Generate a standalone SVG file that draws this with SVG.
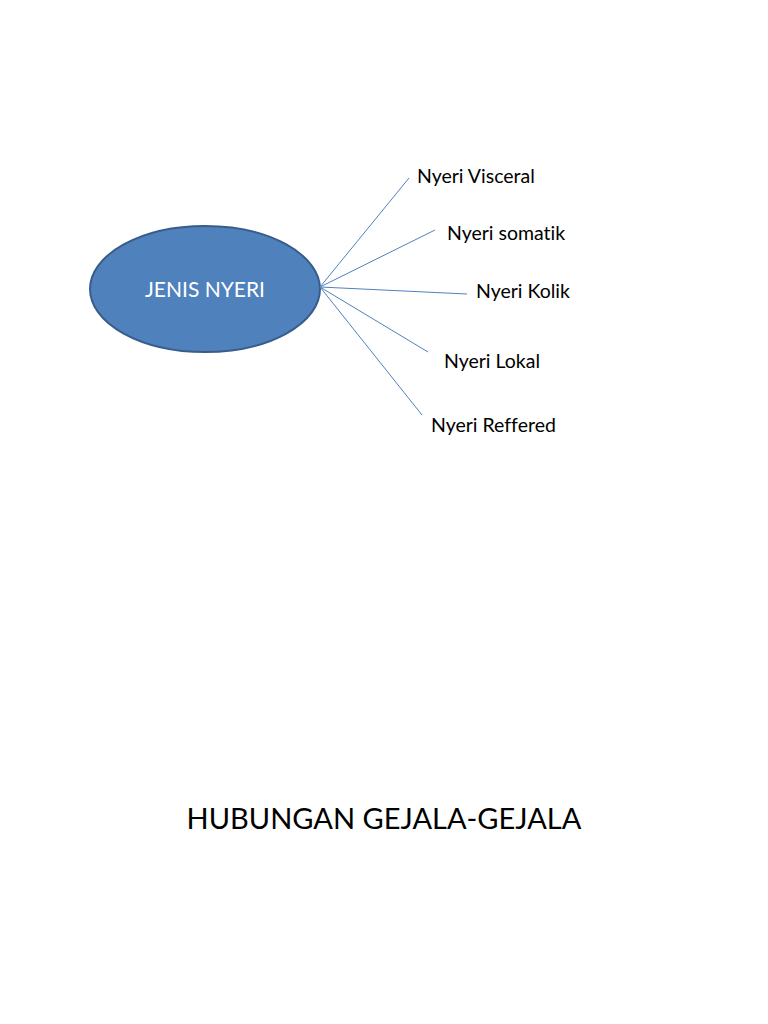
<svg xmlns="http://www.w3.org/2000/svg" width="768" height="1024" viewBox="0 0 768 1024">
<style>
text{font-family:Lato,"Open Sans","Liberation Sans",sans-serif;font-variant-ligatures:none}
.lbl{font-size:19.5px;fill:#000}
.conn line{stroke:#4F81BD;stroke-width:1}
</style>
<rect width="768" height="1024" fill="#fff"/>
<g id="jenis-nyeri">
<ellipse cx="205" cy="289" rx="115" ry="63" fill="#4F81BD" stroke="#385D8A" stroke-width="2"/>
<text x="205" y="297" text-anchor="middle" font-size="21" fill="#fff">JENIS NYERI</text>
</g>
<g id="connectors" class="conn">
<line x1="320" y1="287" x2="409" y2="178"/>
<line x1="320" y1="287" x2="435" y2="230"/>
<line x1="320" y1="287" x2="467" y2="294"/>
<line x1="320" y1="287" x2="428" y2="352"/>
<line x1="320" y1="287" x2="422" y2="415"/>
</g>
<g id="visceral"><text class="lbl" x="417" y="183">Nyeri Visceral</text></g>
<g id="somatik"><text class="lbl" x="447" y="240">Nyeri somatik</text></g>
<g id="kolik"><text class="lbl" x="476" y="298">Nyeri Kolik</text></g>
<g id="lokal"><text class="lbl" x="444" y="368">Nyeri Lokal</text></g>
<g id="reffered"><text class="lbl" x="431" y="432">Nyeri Reffered</text></g>
<g id="title"><text x="384" y="829" text-anchor="middle" font-size="29" fill="#000">HUBUNGAN GEJALA-GEJALA</text></g>
</svg>
